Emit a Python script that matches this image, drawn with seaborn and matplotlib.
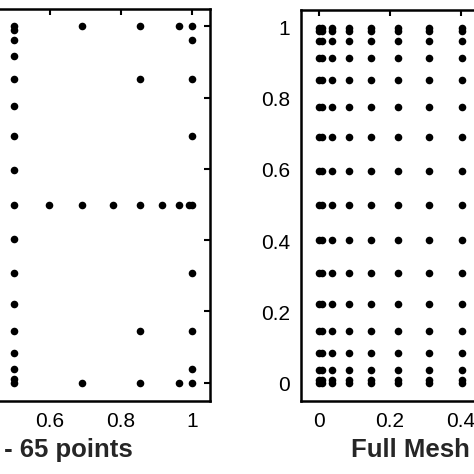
import numpy as np
import pandas as pd
import seaborn as sns
import matplotlib.pyplot as plt

# Nodes (same on both axes)
nodes = [0.0, 0.0096, 0.0381, 0.0843, 0.1464, 0.2222, 0.3087, 0.4025, 0.5,
         0.5975, 0.6913, 0.7778, 0.8536, 0.9157, 0.9619, 0.9904, 1.0]

# Sparse grid (65 points), one column per x value with its y values
y_lvl1 = [0.0, 0.5, 1.0]
y_lvl2 = [0.0, 0.1464, 0.5, 0.8536, 1.0]
y_lvl3 = [0.0, 0.0381, 0.1464, 0.3087, 0.5, 0.6913, 0.8536, 0.9619, 1.0]
sparse_x = [0.0, 0.0096, 0.0381, 0.0843, 0.1464, 0.2222, 0.3087, 0.4025, 0.5,
            0.5975, 0.6913, 0.7778, 0.8536, 0.9157, 0.9619, 0.9904, 1.0]
sparse_cols = [y_lvl3, [0.5], y_lvl1, [0.5], y_lvl2, [0.5], y_lvl1, [0.5], nodes,
               [0.5], y_lvl1, [0.5], y_lvl2, [0.5], y_lvl1, [0.5], y_lvl3]

sparse = pd.DataFrame([(x, y) for x, col in zip(sparse_x, sparse_cols) for y in col],
                      columns=['x', 'y'])
gx, gy = np.meshgrid(nodes, nodes)
full = pd.DataFrame({'x': gx.ravel(), 'y': gy.ravel()})

sns.set_style("white")
plt.rcParams['font.family'] = ['Liberation Sans', 'DejaVu Sans']

fig = plt.figure(figsize=(4.74, 4.74), dpi=100)
ax1 = fig.add_axes([-0.383, 0.155, 0.826, 0.827])
ax2 = fig.add_axes([0.635, 0.154, 0.826, 0.825])

for ax, data, label, lx in [(ax1, sparse, 'Sparse Grid - 65 points', 0.443),
                            (ax2, full, 'Full Mesh - 289 points', 0.47)]:
    sns.scatterplot(data=data, x='x', y='y', ax=ax, color='black', s=30,
                    linewidth=0, legend=False)
    ax.set_xlim(-0.05, 1.05)
    ax.set_ylim(-0.05, 1.05)
    ax.set_xticks([0, 0.2, 0.4, 0.6, 0.8, 1])
    ax.set_xticklabels(['0', '0.2', '0.4', '0.6', '0.8', '1'])
    ax.set_yticks([0, 0.2, 0.4, 0.6, 0.8, 1])
    ax.set_yticklabels(['0', '0.2', '0.4', '0.6', '0.8', '1'])
    ax.tick_params(direction='in', length=4, width=1.5, top=True, right=True,
                   labelsize=15, pad=8, colors='black')
    for sp in ax.spines.values():
        sp.set_linewidth(1.8)
        sp.set_color('black')
    ax.set_xlabel(label, fontsize=18.5, fontweight='bold', labelpad=5)
    ax.xaxis.label.set_x(lx)
    ax.set_ylabel('')

fig.savefig('out.png', dpi=100)
